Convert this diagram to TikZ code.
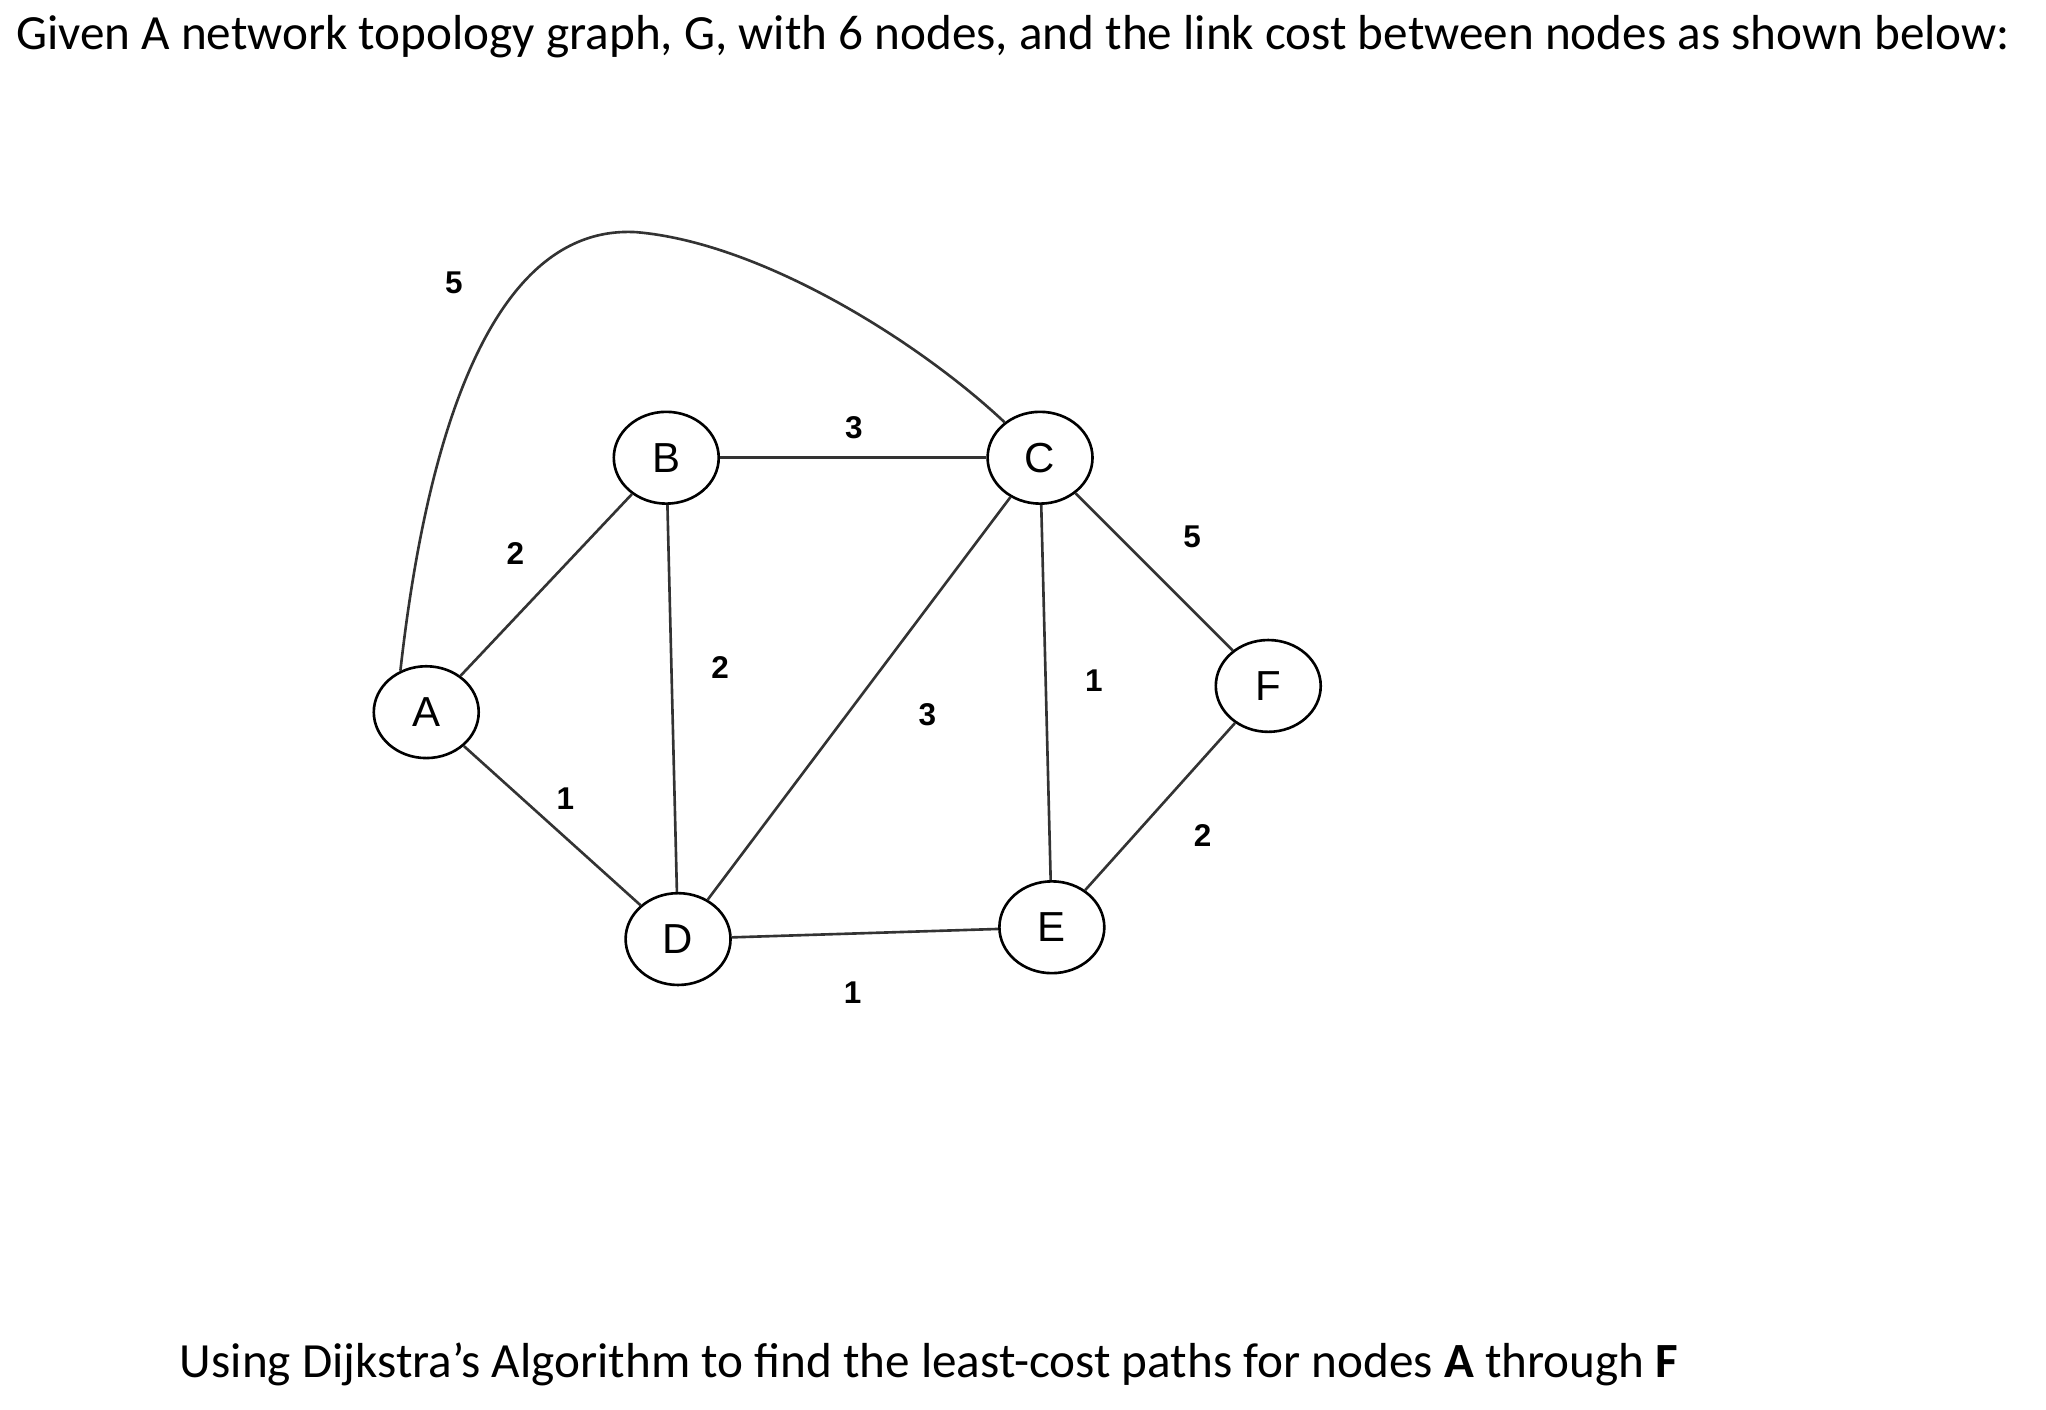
\documentclass[tikz,border=0pt]{standalone}
\usepackage{fontspec}
\usetikzlibrary{shapes.geometric}
\setmainfont{Carlito}
\newfontfamily\arialf{Liberation Sans}
\begin{document}
\begin{tikzpicture}[x=1pt,y=-1pt,
  vert/.style={draw,ellipse,minimum width=80pt,minimum height=70pt,line width=2pt,font=\arialf\fontsize{32}{36}\selectfont,inner sep=0pt},
  edge/.style={line width=2pt,draw=black!80},
  cost/.style={font=\arialf\bfseries\fontsize{24}{28}\selectfont}]
\useasboundingbox (0,0) rectangle (1560,1075);
\node[anchor=base west,font=\fontsize{37.5}{42}\selectfont,inner sep=0pt] (title) at (12,38) {Given A network topology graph, G, with 6 nodes, and the link cost between nodes as shown below:};
\node[vert] (A) at (325,543) {A};
\node[vert] (B) at (508,349) {B};
\node[vert] (C) at (793,349) {C};
\node[vert] (D) at (517,716) {D};
\node[vert] (E) at (802,707) {E};
\node[vert] (F) at (967,523) {F};
\draw[edge] (A) -- (B);
\draw[edge] (A) -- (D);
\draw[edge] (B) -- (C);
\draw[edge] (B) -- (D);
\draw[edge] (C) -- (D);
\draw[edge] (C) -- (E);
\draw[edge] (C) -- (F);
\draw[edge] (D) -- (E);
\draw[edge] (E) -- (F);
\draw[edge] (A.122) .. controls (320,380) and (360,170) .. (485,177) .. controls (580,185) and (700,260) .. (C.135);
\node[cost] (l1) at (346,216) {5};
\node[cost] (l2) at (393,422) {2};
\node[cost] (l3) at (431,609) {1};
\node[cost] (l4) at (651,326) {3};
\node[cost] (l5) at (549,509) {2};
\node[cost] (l6) at (707,545) {3};
\node[cost] (l7) at (834,519) {1};
\node[cost] (l8) at (909,409) {5};
\node[cost] (l9) at (917,637) {2};
\node[cost] (l10) at (650,757) {1};
\node[anchor=base west,font=\fontsize{37.5}{42}\selectfont,inner sep=0pt] (foot) at (137,1050) {Using Dijkstra’s Algorithm to find the least-cost paths for nodes \textbf{A} through \textbf{F}};
\end{tikzpicture}
\end{document}
